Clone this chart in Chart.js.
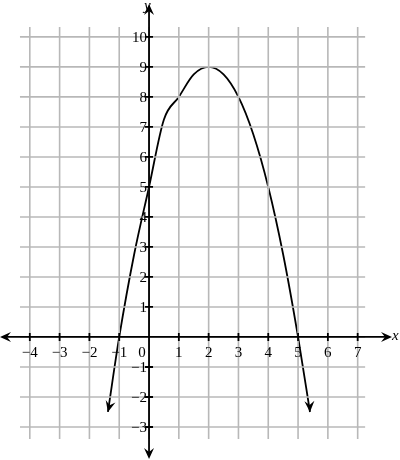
<!DOCTYPE html>
<html><head><script src="https://cdn.jsdelivr.net/npm/chart.js@4"></script>
<style>html,body{margin:0;padding:0;background:#fff}#w{width:400px;height:460px}</style></head>
<body><div id="w"><canvas id="c"></canvas></div>
<script>
const xTicks=[-4,-3,-2,-1,0,1,2,3,4,5,6,7];
const yTicks=[-3,-2,-1,0,1,2,3,4,5,6,7,8,9,10];
const curveX=[-1.38,-1,-0.5,0,0.5,1,1.5,2,2.5,3,3.5,4,4.5,5,5.4];
const curveY=[-2.5,0,2.75,5,7.25,8,8.75,9,8.75,8,6.75,5,2.75,0,-2.5];
const gridXRange=[-4.33,7.25], gridYRange=[-3.4,10.33];
const ds=[];
xTicks.forEach(v=>ds.push({data:[{x:v,y:gridYRange[0]},{x:v,y:gridYRange[1]}],borderColor:'#b8b8b8',borderWidth:1.6,pointRadius:0,showLine:true}));
yTicks.forEach(v=>ds.push({data:[{x:gridXRange[0],y:v},{x:gridXRange[1],y:v}],borderColor:'#b8b8b8',borderWidth:1.6,pointRadius:0,showLine:true}));
ds.push({data:curveX.map((x,i)=>({x,y:curveY[i]})),borderColor:'#000',borderWidth:1.8,pointRadius:0,showLine:true,cubicInterpolationMode:'monotone'});
new Chart(document.getElementById('c'),{type:'scatter',data:{datasets:ds},
options:{responsive:true,maintainAspectRatio:false,animation:false,layout:{padding:0},
plugins:{legend:{display:false},tooltip:{enabled:false}},
scales:{x:{type:'linear',display:false,min:-5,max:8.42},y:{type:'linear',display:false,min:-4.1,max:11.23}}},
plugins:[{id:'ax',afterDatasetsDraw(ch){
 const c=ch.ctx,X=ch.scales.x,Y=ch.scales.y;const px=v=>X.getPixelForValue(v),py=v=>Y.getPixelForValue(v);
 c.save();c.strokeStyle='#000';c.fillStyle='#000';c.lineWidth=1.8;
 const x0=px(0),y0=py(0);
 c.beginPath();c.moveTo(2,y0);c.lineTo(390,y0);c.moveTo(x0,8);c.lineTo(x0,456);c.stroke();
 function arrow(x,y,ang){c.save();c.translate(x,y);c.rotate(ang);c.beginPath();c.moveTo(0,0);c.lineTo(-11,-5);c.lineTo(-7,0);c.lineTo(-11,5);c.closePath();c.fill();c.restore();}
 arrow(0,y0,Math.PI);arrow(392,y0,0);arrow(x0,4,-Math.PI/2);arrow(x0,459,Math.PI/2);
 const a=Math.atan2(py(-2.5)-py(-1),px(-1.38)-px(-1));arrow(px(-1.38),py(-2.5),a);
 const b=Math.atan2(py(-2.5)-py(5),px(5.4)-px(5));arrow(px(5.4),py(-2.5),b);
 c.beginPath();
 xTicks.forEach(v=>{if(v){c.moveTo(px(v),y0-4);c.lineTo(px(v),y0+4);}});
 yTicks.forEach(v=>{if(v){c.moveTo(x0-4,py(v));c.lineTo(x0+4,py(v));}});
 c.stroke();
 c.font='15px "Liberation Serif"';c.textBaseline='middle';
 c.textAlign='center';
 xTicks.forEach(v=>{const t=v<0?'\u2212'+(-v):String(v);c.fillText(t,px(v)+(v===0?-7:0),y0+16);});
 c.textAlign='right';
 yTicks.forEach(v=>{if(v)c.fillText(v<0?'\u2212'+(-v):String(v),x0-2,py(v)+1);});
 c.font='italic 15px "Liberation Serif"';c.textAlign='left';
 c.fillText('x',392,y0-1);c.fillText('y',x0-5,6);
 c.restore();}}]});
</script></body></html>
